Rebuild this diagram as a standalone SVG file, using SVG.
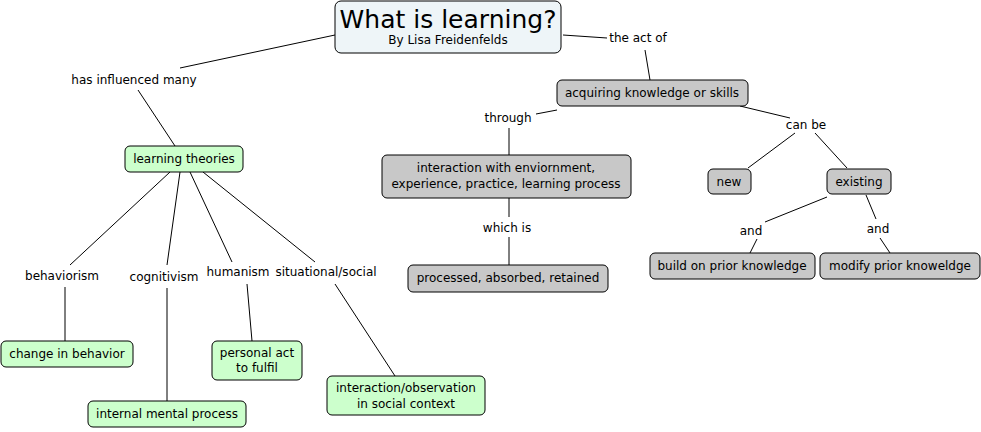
<svg xmlns="http://www.w3.org/2000/svg" width="981" height="432" viewBox="0 0 981 432">
<style>
text{font-family:"DejaVu Sans",Verdana,sans-serif;font-size:12px;fill:#000;text-anchor:middle}
.n rect{stroke:#000;stroke-width:1}
.g{fill:#ccffcc}.y{fill:#c8c8c8}
#c line{stroke:#000;stroke-width:1}
</style>
<rect width="981" height="432" fill="#fff"/>
<g id="c">
<line x1="335" y1="35" x2="180" y2="68"/><line x1="138" y1="90" x2="175" y2="146"/>
<line x1="170" y1="172" x2="70" y2="265"/><line x1="65" y1="287" x2="65" y2="341"/>
<line x1="180" y1="172" x2="167" y2="265"/><line x1="167" y1="288" x2="167" y2="401"/>
<line x1="190" y1="172" x2="232" y2="262"/><line x1="247" y1="284" x2="252" y2="341"/>
<line x1="203" y1="172" x2="315" y2="262"/><line x1="335" y1="284" x2="395" y2="376"/>
<line x1="563" y1="35" x2="607" y2="38"/><line x1="645" y1="50" x2="650" y2="80"/>
<line x1="557" y1="110" x2="536" y2="114"/><line x1="509" y1="128" x2="509" y2="155"/>
<line x1="509" y1="198" x2="509" y2="217"/><line x1="509" y1="237" x2="509" y2="265"/>
<line x1="740" y1="106" x2="790" y2="118"/>
<line x1="795" y1="133" x2="748" y2="168"/><line x1="815" y1="133" x2="847" y2="168"/>
<line x1="827" y1="197" x2="765" y2="222"/><line x1="757" y1="239" x2="750" y2="253"/>
<line x1="866" y1="195" x2="876" y2="219"/><line x1="880" y1="238" x2="890" y2="253"/>
</g>
<g id="labels">
<text x="134" y="84">has influenced many</text>
<text x="62" y="280">behaviorism</text>
<text x="164" y="281">cognitivism</text>
<text x="238" y="276">humanism</text>
<text x="326" y="276">situational/social</text>
<text x="638" y="42">the act of</text>
<text x="508" y="122">through</text>
<text x="507" y="232">which is</text>
<text x="806" y="129">can be</text>
<text x="751" y="235">and</text>
<text x="878" y="233">and</text>
</g>
<g id="title" class="n"><rect x="335" y="1" width="226" height="52" rx="6" fill="#eef5f8"/>
<text x="448" y="28" style="font-size:25px">What is learning?</text><text x="448" y="44">By Lisa Freidenfelds</text></g>
<g id="theories" class="n"><rect class="g" x="125" y="146" width="118" height="26" rx="5"/><text x="184" y="163">learning theories</text></g>
<g id="behavior" class="n"><rect class="g" x="1" y="341" width="132" height="26" rx="5"/><text x="67" y="358">change in behavior</text></g>
<g id="mental" class="n"><rect class="g" x="88" y="401" width="158" height="26" rx="5"/><text x="167" y="418">internal mental process</text></g>
<g id="personal" class="n"><rect class="g" x="212" y="341" width="90" height="39" rx="5"/><text x="257" y="357">personal act</text><text x="257" y="372">to fulfil</text></g>
<g id="social" class="n"><rect class="g" x="327" y="376" width="158" height="39" rx="5"/><text x="406" y="392">interaction/observation</text><text x="406" y="408">in social context</text></g>
<g id="acquiring" class="n"><rect class="y" x="557" y="80" width="191" height="26" rx="5"/><text x="652" y="97">acquiring knowledge or skills</text></g>
<g id="interaction" class="n"><rect class="y" x="382" y="155" width="249" height="43" rx="5"/><text x="506" y="172">interaction with enviornment,</text><text x="506" y="188">experience, practice, learning process</text></g>
<g id="processed" class="n"><rect class="y" x="408" y="265" width="200" height="27" rx="5"/><text x="508" y="282">processed, absorbed, retained</text></g>
<g id="new" class="n"><rect class="y" x="708" y="169" width="43" height="25" rx="5"/><text x="729" y="186">new</text></g>
<g id="existing" class="n"><rect class="y" x="827" y="169" width="64" height="25" rx="5"/><text x="859" y="186">existing</text></g>
<g id="build" class="n"><rect class="y" x="650" y="253" width="165" height="26" rx="5"/><text x="732" y="270">build on prior knowledge</text></g>
<g id="modify" class="n"><rect class="y" x="820" y="253" width="160" height="26" rx="5"/><text x="900" y="270">modify prior knoweldge</text></g>
</svg>
